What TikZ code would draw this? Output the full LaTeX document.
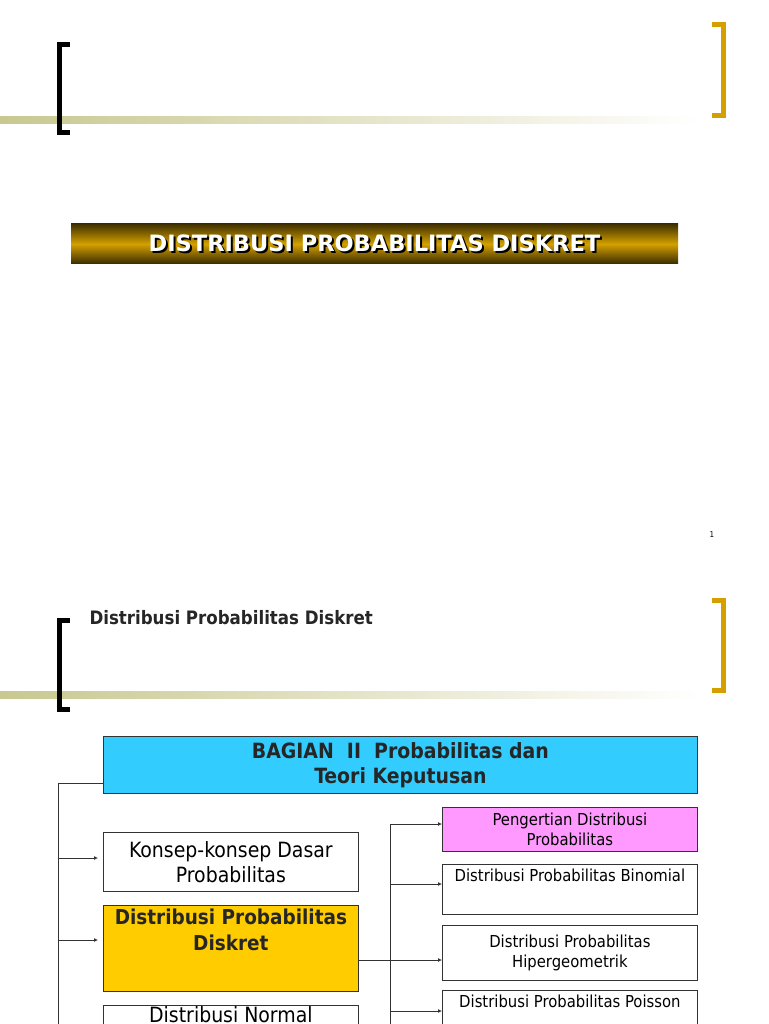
\documentclass[tikz,border=0pt]{standalone}
\usepackage{fontspec}
\setmainfont{DejaVu Sans Condensed}
\newfontfamily\widef{DejaVu Sans}
\usetikzlibrary{arrows.meta}
\definecolor{gold}{HTML}{D4A000}
\definecolor{olive}{HTML}{C8C890}
\definecolor{skyb}{HTML}{33CCFF}
\definecolor{yel}{HTML}{FFCC00}
\definecolor{pink}{HTML}{FF99FF}
\tikzset{
 bx/.style={draw=black!80,line width=0.8pt,align=center,anchor=north west,inner sep=2pt},
 conn/.style={draw=black!80,line width=0.8pt},
 arr/.style={conn,-{Latex[length=4pt,width=4pt]}},
 brk/.style={line width=5pt,line cap=butt},
 small/.style={font=\fontsize{16.5}{20}\selectfont},
}
\begin{document}
\begin{tikzpicture}[x=1pt,y=-1pt]
\useasboundingbox (0,0) rectangle (768,1024);
\fill[white] (0,0) rectangle (768,1024);
% slide 1
\shade[left color=olive,right color=white] (0,117) rectangle (700,124);
\draw[brk,black] (70,44.5) -- (59.5,44.5) -- (59.5,132.5) -- (70,132.5);
\draw[brk,gold] (712,24.5) -- (723.5,24.5) -- (723.5,115.5) -- (712,115.5);
\shade[top color=black!70!gold,bottom color=gold] (71,224) rectangle (678,244);
\shade[top color=gold,bottom color=black!70!gold] (71,244) rectangle (678,263);
\node[font=\widef\fontsize{22.5}{24}\selectfont\bfseries,text=black] (t1s) at (376.5,245.5) {DISTRIBUSI PROBABILITAS DISKRET};
\node[font=\widef\fontsize{22.5}{24}\selectfont\bfseries,text=white] (t1) at (374.5,243.5) {DISTRIBUSI PROBABILITAS DISKRET};
\node[font=\fontsize{8}{9}\selectfont] (pg) at (712,535) {1};
% slide 2
\shade[left color=olive,right color=white] (0,691) rectangle (700,698);
\draw[brk,black] (70,620.5) -- (59.5,620.5) -- (59.5,709.5) -- (70,709.5);
\draw[brk,gold] (712,600.5) -- (723.5,600.5) -- (723.5,690.5) -- (712,690.5);
\node[anchor=west,font=\fontsize{18.5}{20}\selectfont\bfseries,text=black!85] (t2) at (86,618) {Distribusi Probabilitas Diskret};
\node[bx,fill=skyb,minimum width=594pt,minimum height=57pt,font=\fontsize{21}{25}\selectfont\bfseries,text=black!85] (top) at (103,736) {BAGIAN\ \ II\ \ Probabilitas dan\\Teori Keputusan};
\node[bx,minimum width=255pt,minimum height=59pt,font=\fontsize{21}{25}\selectfont] (kon) at (103,832) {Konsep-konsep Dasar\\Probabilitas};
\node[bx,fill=yel,minimum width=255pt,minimum height=86pt] (dis) at (103,905) {};
\node[align=center,anchor=north,font=\fontsize{20.5}{26}\selectfont\bfseries,text=black!85] (dist) at (dis.north) {Distribusi Probabilitas\\Diskret};
\node[bx,minimum width=255pt,minimum height=40pt] (nor) at (103,1005) {};
\node[anchor=north,font=\fontsize{21}{24}\selectfont] (nort) at ([yshift=2pt]nor.north) {Distribusi Normal};
\node[bx,fill=pink,minimum width=255pt,minimum height=44pt,small] (pen) at (442,807) {Pengertian Distribusi\\Probabilitas};
\node[bx,minimum width=255pt,minimum height=50pt] (bin) at (442,864) {};
\node[anchor=north,small] (bint) at ([yshift=-1pt]bin.north) {Distribusi Probabilitas Binomial};
\node[bx,minimum width=255pt,minimum height=55pt,small] (hip) at (442,925) {Distribusi Probabilitas\\Hipergeometrik};
\node[bx,minimum width=255pt,minimum height=50pt] (poi) at (442,990) {};
\node[anchor=north,small] (poit) at ([yshift=-1pt]poi.north) {Distribusi Probabilitas Poisson};
% connectors
\coordinate (lt) at (58,783);
\coordinate (lb) at (58,1024);
\draw[conn] (top.west |- 0,783) -- (lt) -- (lb);
\draw[arr] (58,858) -- ([xshift=-5pt]kon.west |- 0,858);
\draw[arr] (58,940) -- ([xshift=-5pt]dis.west |- 0,940);
\coordinate (rt) at (390,824);
\coordinate (rb) at (390,1024);
\draw[conn] (rt) -- (rb);
\draw[conn] (dis.east |- 0,960) -- (390,960);
\draw[arr] (rt) -- (pen.west |- rt);
\draw[arr] (390,884) -- (bin.west |- 0,884);
\draw[arr] (390,960) -- (hip.west |- 0,960);
\draw[arr] (390,1011) -- (poi.west |- 0,1011);
\end{tikzpicture}
\end{document}
